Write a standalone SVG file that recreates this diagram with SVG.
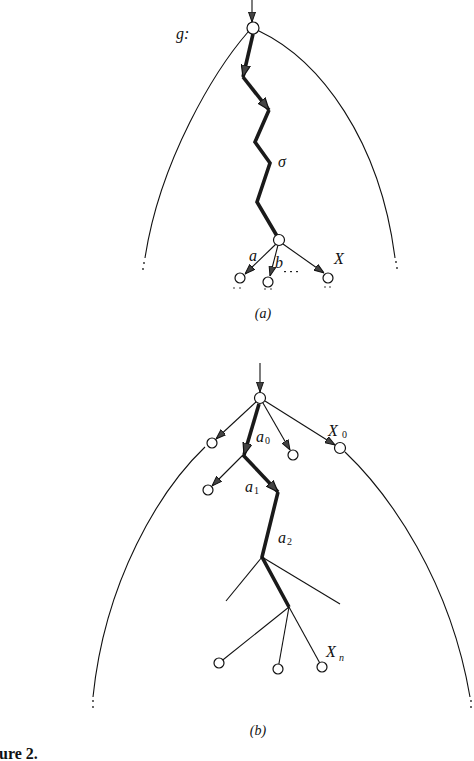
<svg xmlns="http://www.w3.org/2000/svg" width="474" height="761" viewBox="0 0 474 761">
<style>
.thin{fill:none;stroke:#111;stroke-width:1.1}
.thick{fill:none;stroke:#1a1a1a;stroke-width:3.6;stroke-linejoin:miter}
.arc{fill:none;stroke:#111;stroke-width:1.1}
.node{fill:#fff;stroke:#111;stroke-width:1.2}
.dot{fill:#222}
.lbl{font-family:"Liberation Serif",serif;font-style:italic;font-size:16px;fill:#111}
.sub{font-family:"Liberation Serif",serif;font-size:10px;fill:#111}
.cap{font-family:"Liberation Serif",serif;font-style:italic;font-size:14px;fill:#111}
</style>
<defs>
<marker id="ah" markerUnits="userSpaceOnUse" markerWidth="10" markerHeight="8" refX="10" refY="4" orient="auto">
<path d="M0,0.5 L10,4 L0,7.5 z" fill="#444" stroke="#111" stroke-width="1"/>
</marker>
<marker id="ahT" markerUnits="userSpaceOnUse" markerWidth="13" markerHeight="10" refX="12" refY="5" orient="auto">
<path d="M0,0.5 L12,5 L0,9.5 z" fill="#444" stroke="#111" stroke-width="1.2"/>
</marker>
</defs>

<g id="connectors">
<line class="thin" x1="252" y1="0" x2="252" y2="22" marker-end="url(#ah)"/>
<path class="arc" d="M248,32 C215,70 160,160 145,258"/>
<path class="arc" d="M259,31 C320,60 380,140 395,258"/>
<path class="thick" d="M253,34 L243,77" marker-end="url(#ahT)"/>
<path class="thick" d="M243,77 L269,110" marker-end="url(#ahT)"/>
<path class="thick" d="M269,110 L255,142 L270,163 L257,202 L277,236"/>
<line class="thin" x1="276" y1="244" x2="245" y2="274" marker-end="url(#ah)"/>
<line class="thin" x1="278" y1="245" x2="270" y2="276" marker-end="url(#ah)"/>
<line class="thin" x1="283" y1="244" x2="324" y2="273" marker-end="url(#ah)"/>
<line class="thin" x1="260" y1="363" x2="260" y2="392" marker-end="url(#ah)"/>
<path class="arc" d="M205,447 C160,490 105,580 93,697"/>
<path class="arc" d="M345,452 C390,495 450,580 470,697"/>
<line class="thin" x1="256" y1="402" x2="216" y2="439" marker-end="url(#ah)"/>
<line class="thin" x1="263" y1="403" x2="290" y2="450" marker-end="url(#ah)"/>
<line class="thin" x1="265" y1="401" x2="335" y2="445" marker-end="url(#ah)"/>
<path class="thick" d="M259,404 L244,455" marker-end="url(#ahT)"/>
<line class="thin" x1="243" y1="455" x2="212" y2="486" marker-end="url(#ah)"/>
<path class="thick" d="M243,455 L278,492" marker-end="url(#ahT)"/>
<path class="thick" d="M278,492 L262,557 L289,607"/>
<line class="thin" x1="262" y1="557" x2="226" y2="601"/>
<line class="thin" x1="262" y1="557" x2="340" y2="604"/>
<line class="thin" x1="289" y1="607" x2="219" y2="663"/>
<line class="thin" x1="289" y1="607" x2="278" y2="669"/>
<line class="thin" x1="289" y1="607" x2="322" y2="667"/>
</g>

<g id="a-root"><circle class="node" cx="253" cy="28" r="6"/></g>
<g id="a-mid"><circle class="node" cx="279" cy="240" r="5.5"/></g>
<g id="a-c1"><circle class="node" cx="240" cy="278" r="5"/></g>
<g id="a-c2"><circle class="node" cx="268" cy="282" r="5"/></g>
<g id="a-c3"><circle class="node" cx="328" cy="278" r="5"/></g>

<g id="b-root"><circle class="node" cx="260" cy="398" r="5.5"/></g>
<g id="b-c1"><circle class="node" cx="212" cy="443" r="5"/></g>
<g id="b-c2"><circle class="node" cx="293" cy="455" r="5"/></g>
<g id="b-c3"><circle class="node" cx="340" cy="448" r="5.5"/></g>
<g id="b-c4"><circle class="node" cx="208" cy="490" r="5"/></g>
<g id="b-l1"><circle class="node" cx="219" cy="663" r="5"/></g>
<g id="b-l2"><circle class="node" cx="278" cy="669" r="5"/></g>
<g id="b-l3"><circle class="node" cx="322" cy="667" r="5"/></g>

<g id="dots">
<circle class="dot" cx="144" cy="263" r="0.9"/><circle class="dot" cx="143" cy="269" r="0.9"/>
<circle class="dot" cx="396" cy="262" r="0.9"/><circle class="dot" cx="397" cy="268" r="0.9"/>
<circle class="dot" cx="234" cy="288" r="0.8"/><circle class="dot" cx="240" cy="288" r="0.8"/>
<circle class="dot" cx="265" cy="289" r="0.8"/><circle class="dot" cx="271" cy="289" r="0.8"/>
<circle class="dot" cx="325" cy="287" r="0.8"/><circle class="dot" cx="330" cy="287" r="0.8"/>
<rect class="dot" x="284" y="271" width="2" height="1.2"/><rect class="dot" x="290" y="271" width="2" height="1.2"/><rect class="dot" x="296" y="271" width="2" height="1.2"/>
<circle class="dot" cx="93" cy="701" r="0.9"/><circle class="dot" cx="93" cy="707" r="0.9"/>
<circle class="dot" cx="471" cy="701" r="0.9"/><circle class="dot" cx="471" cy="707" r="0.9"/>
</g>

<g id="labels">
<text class="lbl" x="176" y="39">g:</text>
<text class="lbl" x="278" y="167">σ</text>
<text class="lbl" x="249" y="261">a</text>
<text class="lbl" x="275" y="268">b</text>
<text class="lbl" x="334" y="264">X</text>
<text class="cap" x="263" y="318" text-anchor="middle">(a)</text>
<text class="lbl" x="328" y="436">X</text><text class="sub" x="342" y="438">0</text>
<text class="lbl" x="256" y="442">a</text><text class="sub" x="265" y="444">0</text>
<text class="lbl" x="245" y="492">a</text><text class="sub" x="254" y="494">1</text>
<text class="lbl" x="278" y="543">a</text><text class="sub" x="287" y="545">2</text>
<text class="lbl" x="326" y="657">X</text><text class="sub" x="339" y="661" font-style="italic">n</text>
<text class="cap" x="258" y="735" text-anchor="middle">(b)</text>
<text x="-1" y="759" font-family="Liberation Serif, serif" font-weight="bold" font-size="16" fill="#111">ure 2.</text>
</g>
</svg>
